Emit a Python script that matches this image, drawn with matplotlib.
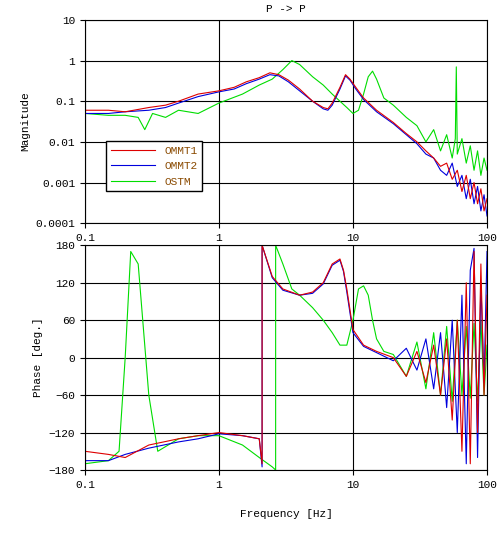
import numpy as np
import matplotlib.pyplot as plt

plt.rcParams['font.family'] = ['Liberation Mono', 'DejaVu Sans Mono']
plt.rcParams['font.size'] = 8

# magnitude data
f_ommt = [0.1, 0.15, 0.2, 0.3, 0.4, 0.5, 0.7, 1, 1.3, 1.6, 2, 2.4, 2.8, 3.3, 4, 5, 6, 6.5, 7, 8, 8.8, 9.5, 10.5,
          12, 15, 20, 25, 30, 35, 40, 45, 50, 55, 60, 65, 70, 75, 80, 85, 90, 95, 100]
m_ommt1 = [0.06, 0.06, 0.055, 0.07, 0.08, 0.1, 0.15, 0.18, 0.22, 0.3, 0.38, 0.5, 0.45, 0.33, 0.2, 0.1, 0.07, 0.065,
           0.09, 0.22, 0.45, 0.35, 0.22, 0.12, 0.06, 0.03, 0.016, 0.01, 0.006, 0.004, 0.0025, 0.003, 0.0012, 0.002,
           0.0006, 0.0015, 0.0004, 0.001, 0.0003, 0.0007, 0.0002, 0.0004]
m_ommt2 = [0.05, 0.05, 0.055, 0.06, 0.07, 0.09, 0.13, 0.17, 0.2, 0.27, 0.35, 0.45, 0.42, 0.3, 0.18, 0.1, 0.065, 0.06,
           0.08, 0.2, 0.42, 0.33, 0.2, 0.11, 0.055, 0.028, 0.015, 0.009, 0.005, 0.004, 0.002, 0.0015, 0.003, 0.0008,
           0.0015, 0.0004, 0.0012, 0.0003, 0.0008, 0.0002, 0.0005, 0.00015]
f_ostm = [0.1, 0.15, 0.2, 0.25, 0.28, 0.32, 0.4, 0.5, 0.7, 1, 1.5, 2, 2.5, 3, 3.5, 4, 5, 6, 7, 8, 9, 10, 11, 12,
          13, 14, 15, 17, 20, 25, 30, 35, 40, 45, 50, 55, 58, 59, 60, 65, 70, 75, 80, 85, 90, 95, 100]
m_ostm = [0.05, 0.045, 0.045, 0.04, 0.02, 0.05, 0.04, 0.06, 0.05, 0.09, 0.15, 0.25, 0.35, 0.6, 1.0, 0.8, 0.4, 0.25,
          0.15, 0.1, 0.07, 0.05, 0.06, 0.15, 0.4, 0.55, 0.35, 0.12, 0.08, 0.04, 0.025, 0.01, 0.02, 0.006, 0.015,
          0.004, 0.012, 0.7, 0.005, 0.012, 0.003, 0.008, 0.002, 0.006, 0.0015, 0.004, 0.002]

# phase data
f_ph = [0.1, 0.15, 0.2, 0.3, 0.5, 0.7, 1, 1.5, 2, 2.1, 2.1, 2.5, 3, 4, 5, 6, 7, 8, 8.5, 9, 10, 12, 15, 20,
        25, 30, 35, 40, 45, 50, 55, 60, 65, 70, 75, 80, 85, 90, 95, 100]
p_ommt1 = [-150, -155, -160, -140, -130, -125, -120, -125, -130, -170, 180, 130, 110, 100, 105, 120, 150, 158,
           140, 110, 45, 20, 10, 0, -30, 10, -40, 20, -60, 30, -100, 60, -150, 120, -170, 170, -120, 150, -60, 100]
p_ommt2 = [-165, -165, -155, -145, -135, -130, -122, -125, -130, -175, 180, 128, 108, 100, 103, 118, 148, 156,
           138, 105, 40, 18, 8, -5, 15, -20, 30, -50, 40, -80, 60, -120, 100, -170, 140, 175, -160, 120, -40, 170]
f_ph_ostm = [0.1, 0.15, 0.18, 0.2, 0.22, 0.25, 0.3, 0.35, 0.5, 0.7, 1, 1.5, 2, 2.5, 2.65, 2.65, 3, 3.5, 4, 5,
             6, 7, 8, 9, 10, 11, 12, 13, 14, 15, 17, 20, 25, 30, 35, 40, 45, 50, 55, 60, 65, 70, 75, 80, 85, 90,
             95, 100]
p_ostm = [-170, -165, -150, 0, 170, 150, -60, -150, -130, -125, -125, -140, -160, -175, -180, 180, 150, 110, 100,
          80, 60, 40, 20, 20, 60, 110, 115, 100, 60, 30, 10, 5, -30, 25, -50, 40, -60, 50, -70, 60, -60, 50, -65,
          55, -70, 60, -60, 20]

fig = plt.figure(figsize=(4.99, 5.39), dpi=100)
ax1 = fig.add_axes([0.170, 0.586, 0.806, 0.377])
ax2 = fig.add_axes([0.170, 0.128, 0.806, 0.417])

ax1.loglog(f_ostm, m_ostm, color='#00dd00', lw=0.8, label='OSTM')
ax1.loglog(f_ommt, m_ommt2, color='#0000dd', lw=0.8, label='OMMT2')
ax1.loglog(f_ommt, m_ommt1, color='#dd0000', lw=0.8, label='OMMT1')
ax1.set_xlim(0.1, 100)
ax1.set_ylim(1e-4, 10)
ax1.set_yticks([1e-4, 1e-3, 1e-2, 0.1, 1, 10])
ax1.set_yticklabels(['0.0001', '0.001', '0.01', '0.1', '1', '10'])
ax1.set_xticks([0.1, 1, 10, 100])
ax1.set_xticklabels(['0.1', '1', '10', '100'])
ax1.minorticks_off()
ax1.grid(True, color='black', lw=0.8)
ax1.set_ylabel('Magnitude')
ax1.set_title('P -> P', fontsize=8)
h, l = ax1.get_legend_handles_labels()
leg = ax1.legend(h[::-1], l[::-1], loc='lower left', bbox_to_anchor=(0.04, 0.13), fancybox=False,
                 edgecolor='black', framealpha=1, fontsize=8, handlelength=4)
for t in leg.get_texts():
    t.set_color('#8a4a00')

ax2.semilogx(f_ph_ostm, p_ostm, color='#00dd00', lw=0.8)
ax2.semilogx(f_ph, p_ommt2, color='#0000dd', lw=0.8)
ax2.semilogx(f_ph, p_ommt1, color='#dd0000', lw=0.8)
ax2.set_xlim(0.1, 100)
ax2.set_ylim(-180, 180)
ax2.set_yticks(np.arange(-180, 181, 60))
ax2.set_xticks([0.1, 1, 10, 100])
ax2.set_xticklabels(['0.1', '1', '10', '100'])
ax2.minorticks_off()
ax2.grid(True, color='black', lw=0.8)
ax2.set_ylabel('Phase [deg.]')
ax2.set_xlabel('Frequency [Hz]', labelpad=14)

fig.savefig('out.png', dpi=100)
